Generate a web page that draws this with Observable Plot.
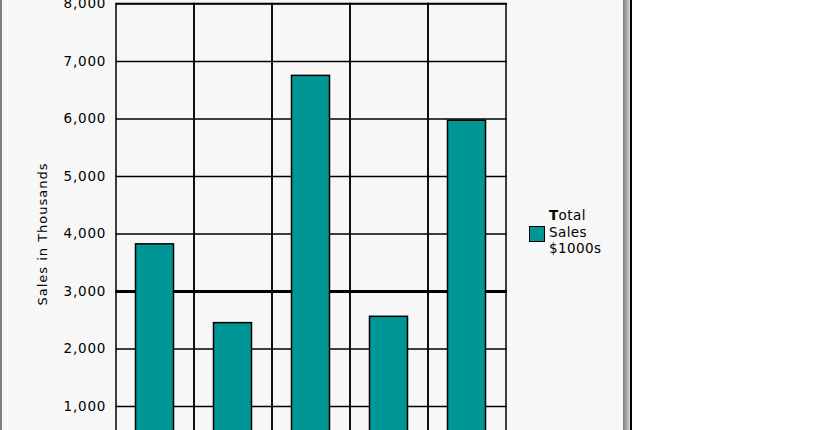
<!DOCTYPE html>
<html>
<head>
<meta charset="utf-8">
<script src="https://cdn.jsdelivr.net/npm/d3@7"></script>
<script src="https://cdn.jsdelivr.net/npm/@observablehq/plot@0.6"></script>
<style>
  html, body { margin: 0; padding: 0; background: #ffffff; }
  #wrap { position: relative; width: 819px; height: 430px; overflow: hidden; }
  #panel { position: absolute; left: 0; top: -20px; width: 623px; height: 600px;
           background: #f7f7f7; border-left: 2px solid #7f7f7f; box-sizing: border-box; }
  #shadow { position: absolute; left: 623px; top: -20px; width: 7px; height: 600px;
            background: linear-gradient(to right, #7c7c7c, #d6d6d6); }
  #edge { position: absolute; left: 630px; top: -20px; width: 1.5px; height: 600px; background: #000; }
  #chart { position: absolute; left: 0; top: 0; }
  #chart svg g[aria-label="y-axis tick label"] text { letter-spacing: 0.8px; }
  #chart svg g[aria-label="text"] text { letter-spacing: 1px; }
  #legend { position: absolute; left: 529px; top: 207px; font-family: "DejaVu Sans", sans-serif;
            font-size: 13.5px; color: #000; line-height: 16.5px; letter-spacing: 0.4px; }
  #legend .sw { position: absolute; left: 0; top: 19px; width: 14px; height: 14px;
                background: #009696; border: 1.5px solid #000; }
  #legend .txt { position: absolute; left: 20px; top: 0; white-space: nowrap; }
</style>
</head>
<body>
<div id="wrap">
  <div id="panel"></div>
  <div id="shadow"></div>
  <div id="edge"></div>
  <div id="chart"></div>
  <div id="legend">
    <div class="sw"></div>
    <div class="txt"><b>T</b>otal<br>Sales<br>$1000s</div>
  </div>
</div>
<script>
// ---- data ----
const categories = ["1", "2", "3", "4", "5"];
const sales = [3820, 2450, 6750, 2560, 5970];
const gridTicks = [0, 1000, 2000, 3000, 4000, 5000, 6000, 7000, 8000];
const labelTicks = [1000, 2000, 3000, 4000, 5000, 6000, 7000, 8000];
const targetLine = [3000];
const yLabel = "Sales in Thousands";

const rows = categories.map((c, i) => ({category: c, sales: sales[i]}));
const cells = categories.map(c => ({category: c}));

const chart = Plot.plot({
  width: 819,
  height: 500,
  marginLeft: 115.7,
  marginRight: 312,
  marginTop: 3.5,
  marginBottom: 36.5,
  style: {background: "transparent", fontFamily: "DejaVu Sans, sans-serif", fontSize: "13.5px", color: "#000", overflow: "visible"},
  x: {domain: categories, padding: 0, axis: null},
  y: {domain: [0, 8000], axis: null},
  marks: [
    // vertical grid cells
    Plot.barY(cells, {x: "category", y1: 0, y2: 8000, fill: "none", stroke: "#000", strokeWidth: 1.5}),
    // horizontal grid lines
    Plot.ruleY(gridTicks, {stroke: "#000", strokeWidth: 1.5}),
    Plot.ruleY(targetLine, {stroke: "#000", strokeWidth: 3}),
    // bars
    Plot.barY(rows, {x: "category", y: "sales", fill: "#009696", stroke: "#000", strokeWidth: 1.5,
                     insetLeft: 19.5, insetRight: 20.5}),
    Plot.axisY({ticks: labelTicks, tickFormat: d3.format(","), tickSize: 0, tickPadding: 10, label: null,
                fontSize: 13.5}),
    Plot.text([yLabel], {frameAnchor: "left", dx: -73.5, rotate: -90, textAnchor: "middle",
                         fontSize: 13, fill: "#000"})
  ]
});
document.getElementById("chart").appendChild(chart);
</script>
</body>
</html>
